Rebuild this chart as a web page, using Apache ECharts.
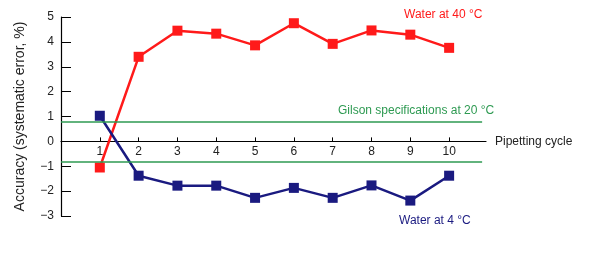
<!DOCTYPE html>
<html>
<head>
<meta charset="utf-8">
<script src="https://cdn.jsdelivr.net/npm/echarts@6/dist/echarts.min.js"></script>
<style>
  html, body { margin: 0; padding: 0; background: #fff; }
  #chart { width: 600px; height: 254px; }
</style>
</head>
<body>
<div id="chart"></div>
<script>
// 数据
var cycles = [1, 2, 3, 4, 5, 6, 7, 8, 9, 10];
var water40 = [-1.05, 3.4, 4.45, 4.33, 3.86, 4.75, 3.92, 4.46, 4.29, 3.76];
var water4 = [1.03, -1.38, -1.78, -1.78, -2.27, -1.87, -2.27, -1.77, -2.38, -1.38];
var specLimits = [0.8, -0.8];
var specRange = [0, 10.85];
var yTicks = [-3, -2, -1, 0, 1, 2, 3, 4, 5];

var font = 'Liberation Sans, Arial, sans-serif';
var gridTop = 17, gridHeight = 199;

function pairs(xs, ys) {
    var res = [];
    for (var i = 0; i < xs.length; i++) res.push([xs[i], ys[i]]);
    return res;
}

// x轴放在 y=0 处：用 offset 把底部坐标轴向上移
var yMin = yTicks[0], yMax = yTicks[yTicks.length - 1];
var zeroOffset = -gridHeight * (0 - yMin) / (yMax - yMin);

var chart = echarts.init(document.getElementById('chart'));

var option = {
    animation: false,
    grid: { left: 61, top: gridTop, width: 425, height: gridHeight, containLabel: false },
    xAxis: {
        type: 'value',
        min: 0,
        max: 10.95,
        interval: 1,
        offset: zeroOffset,
        splitLine: { show: false },
        axisLine: { onZero: false, lineStyle: { color: '#000', width: 1.2 } },
        axisTick: { inside: true, length: 4, lineStyle: { color: '#000' } },
        axisLabel: {
            margin: 4,
            color: '#222',
            fontSize: 12,
            fontFamily: font,
            showMaxLabel: false,
            formatter: function (v) { return v === 0 ? '' : String(v); }
        }
    },
    yAxis: {
        type: 'value',
        min: yMin,
        max: yMax,
        interval: 1,
        splitLine: { show: false },
        axisLine: { show: true, lineStyle: { color: '#000', width: 1.2 } },
        axisTick: { inside: true, length: 10, lineStyle: { color: '#000' } },
        axisLabel: {
            margin: 7,
            color: '#222',
            fontSize: 12,
            fontFamily: font,
            formatter: function (v) { return v < 0 ? '\u2212' + Math.abs(v) : String(v); }
        },
        name: 'Accuracy (systematic error, %)',
        nameLocation: 'middle',
        nameRotate: 90,
        nameGap: 34,
        nameTextStyle: { fontSize: 14, color: '#222', fontFamily: font }
    },
    series: [
        {
            name: 'Water at 40 °C',
            type: 'line',
            data: pairs(cycles, water40),
            symbol: 'rect',
            symbolSize: 10,
            lineStyle: { color: '#ff1a1a', width: 2.5 },
            itemStyle: { color: '#ff1a1a' },
            z: 3
        },
        {
            name: 'Water at 4 °C',
            type: 'line',
            data: pairs(cycles, water4),
            symbol: 'rect',
            symbolSize: 10,
            lineStyle: { color: '#1a1a80', width: 2.5 },
            itemStyle: { color: '#1a1a80' },
            z: 4,
            markLine: {
                silent: true,
                symbol: 'none',
                label: { show: false },
                lineStyle: { color: '#2e9a52', width: 1.5, type: 'solid' },
                data: specLimits.map(function (v) {
                    return [{ coord: [specRange[0], v] }, { coord: [specRange[1], v] }];
                })
            }
        }
    ],
    graphic: [
        { type: 'text', left: 404, top: 9, style: { text: 'Water at 40 °C', fill: '#ff1a1a', font: '12px ' + font } },
        { type: 'text', left: 338, top: 105, style: { text: 'Gilson specifications at 20 °C', fill: '#2e9a52', font: '12px ' + font } },
        { type: 'text', left: 495, top: 136, style: { text: 'Pipetting cycle', fill: '#222', font: '12px ' + font } },
        { type: 'text', left: 399, top: 215, style: { text: 'Water at 4 °C', fill: '#1a1a80', font: '12px ' + font } }
    ]
};

chart.setOption(option);
</script>
</body>
</html>
